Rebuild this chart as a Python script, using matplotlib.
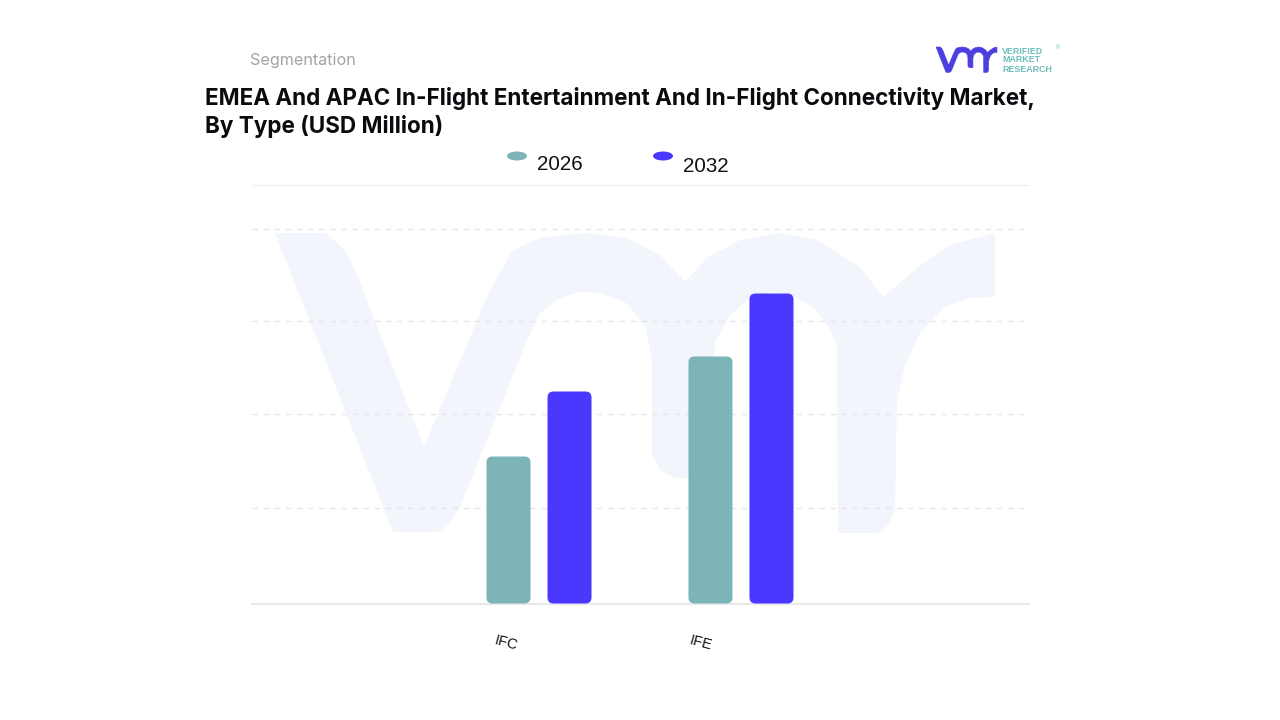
import matplotlib
matplotlib.use('Agg')
import matplotlib.pyplot as plt
from matplotlib.patches import Ellipse, FancyBboxPatch, Polygon

# data (no y axis labels so units are approximate)
types = ['IFC', 'IFE']
years = ['2026', '2032']
vals_2026 = [147, 247]
vals_2032 = [212, 310]
grid_levels = [95.5, 189.5, 282.5, 374.5]

teal = '#7CB4B8'
blue = '#4B38FF'

# outline of the vmr mark, in picture pixels
mark = [(275, 233), (325, 233), (345, 250), (357, 275), (424, 447), (490, 290), (513, 250),
        (540, 238), (585, 233), (627, 238), (660, 255), (685, 282), (707, 258), (740, 240),
        (780, 233), (817, 240), (860, 267), (883, 297), (917, 268), (950, 245), (995, 233),
        (995, 297), (970, 298), (945, 307), (920, 333), (905, 365), (897, 400), (895, 510),
        (888, 525), (878, 533), (838, 533), (837, 345), (828, 325), (813, 307), (790, 294),
        (770, 292), (750, 298), (730, 315), (716, 340), (711, 370), (711, 478), (675, 478),
        (660, 470), (652, 455), (652, 360), (645, 325), (625, 302), (600, 293), (580, 292),
        (560, 298), (540, 313), (525, 345), (460, 507), (450, 523), (438, 532), (393, 532)]

fig = plt.figure(figsize=(12.8, 7.2), dpi=100)

# background layer in pixels, for the header, watermark and legend
bg = fig.add_axes([0, 0, 1, 1], zorder=0)
bg.set_xlim(0, 1280)
bg.set_ylim(720, 0)
bg.axis('off')

bg.add_patch(Polygon(mark, closed=True, fc='#F3F5FC', ec='none'))

# small logo is the same mark scaled down
sc = 61 / 720
logo = [(936 + (x - 275) * sc, 47 + (y - 233) * sc) for x, y in mark]
bg.add_patch(Polygon(logo, closed=True, fc='#4B3FE0', ec='#4B3FE0', lw=0.4))
for txt, yy in zip(['VERIFIED', 'MARKET', 'RESEARCH'], [51, 60, 69]):
    bg.text(1002, yy, txt, fontsize=6.4, color='#6DBDB9', family='Liberation Sans',
            fontweight='bold', va='center', ha='left', fontstretch='expanded')
bg.text(1057, 48, '®', fontsize=4, color='#6DBDB9', ha='center', va='center')

bg.text(250, 60, 'Segmentation', fontsize=11.6, color='#A3A3A8', family='Inter', va='center')
bg.text(205, 98, 'EMEA And APAC In-Flight Entertainment And In-Flight Connectivity Market,',
        fontsize=16.2, fontweight='bold', color='#0B0B0F', family='Inter', va='center')
bg.text(205, 127, 'By Type (USD Million)',
        fontsize=16.2, fontweight='bold', color='#0B0B0F', family='Inter', va='center')

# legend
for xx, col, yr, ty in zip([517, 663], [teal, blue], years, [165, 166]):
    bg.add_patch(Ellipse((xx, 156), 20, 9, fc=col, ec='none'))
    bg.text(xx + 20, ty, yr, fontsize=14.8, color='#111111', family='Liberation Sans',
            va='center', ha='left')

# main chart
ax = fig.add_axes([252 / 1280, (720 - 603.5) / 720, 777 / 1280, 418.5 / 720], zorder=1)
ax.patch.set_alpha(0)
ax.set_xlim(-1.421, 2.426)
ax.set_ylim(0, 418.5)

w = 0.218
off = 0.151
r = 6 / 202
for i in range(len(types)):
    for dx, v, col in [(-off, vals_2026[i], teal), (off, vals_2032[i], blue)]:
        ax.add_patch(FancyBboxPatch((i + dx - w / 2, 0), w, v,
                                    boxstyle=f'round,pad=0,rounding_size={r}',
                                    mutation_aspect=202, fc=col, ec='none',
                                    clip_on=False, zorder=3))

for g in grid_levels:
    ax.axhline(g, color='#E6E6EA', lw=1, ls=(0, (4, 4)), zorder=1)

for s in ['left', 'right']:
    ax.spines[s].set_visible(False)
ax.spines['top'].set_color('#EDEDF0')
ax.spines['bottom'].set_color('#E6E8EC')
ax.spines['bottom'].set_linewidth(1.4)
ax.set_yticks([])
ax.set_xticks(range(len(types)))
ax.set_xticklabels([])
ax.tick_params(length=0)

# labels sit left of their group and are slanted
for i, (t, dx) in enumerate(zip(types, [-33, -40])):
    ax.annotate(t, xy=(i, 0), xytext=(dx * 0.72, -40 * 0.72), textcoords='offset points',
                rotation=-15, fontsize=10.5, family='Liberation Sans', color='#111111',
                ha='center', va='center', rotation_mode='anchor')

fig.savefig('out.png', dpi=100, facecolor='white')
